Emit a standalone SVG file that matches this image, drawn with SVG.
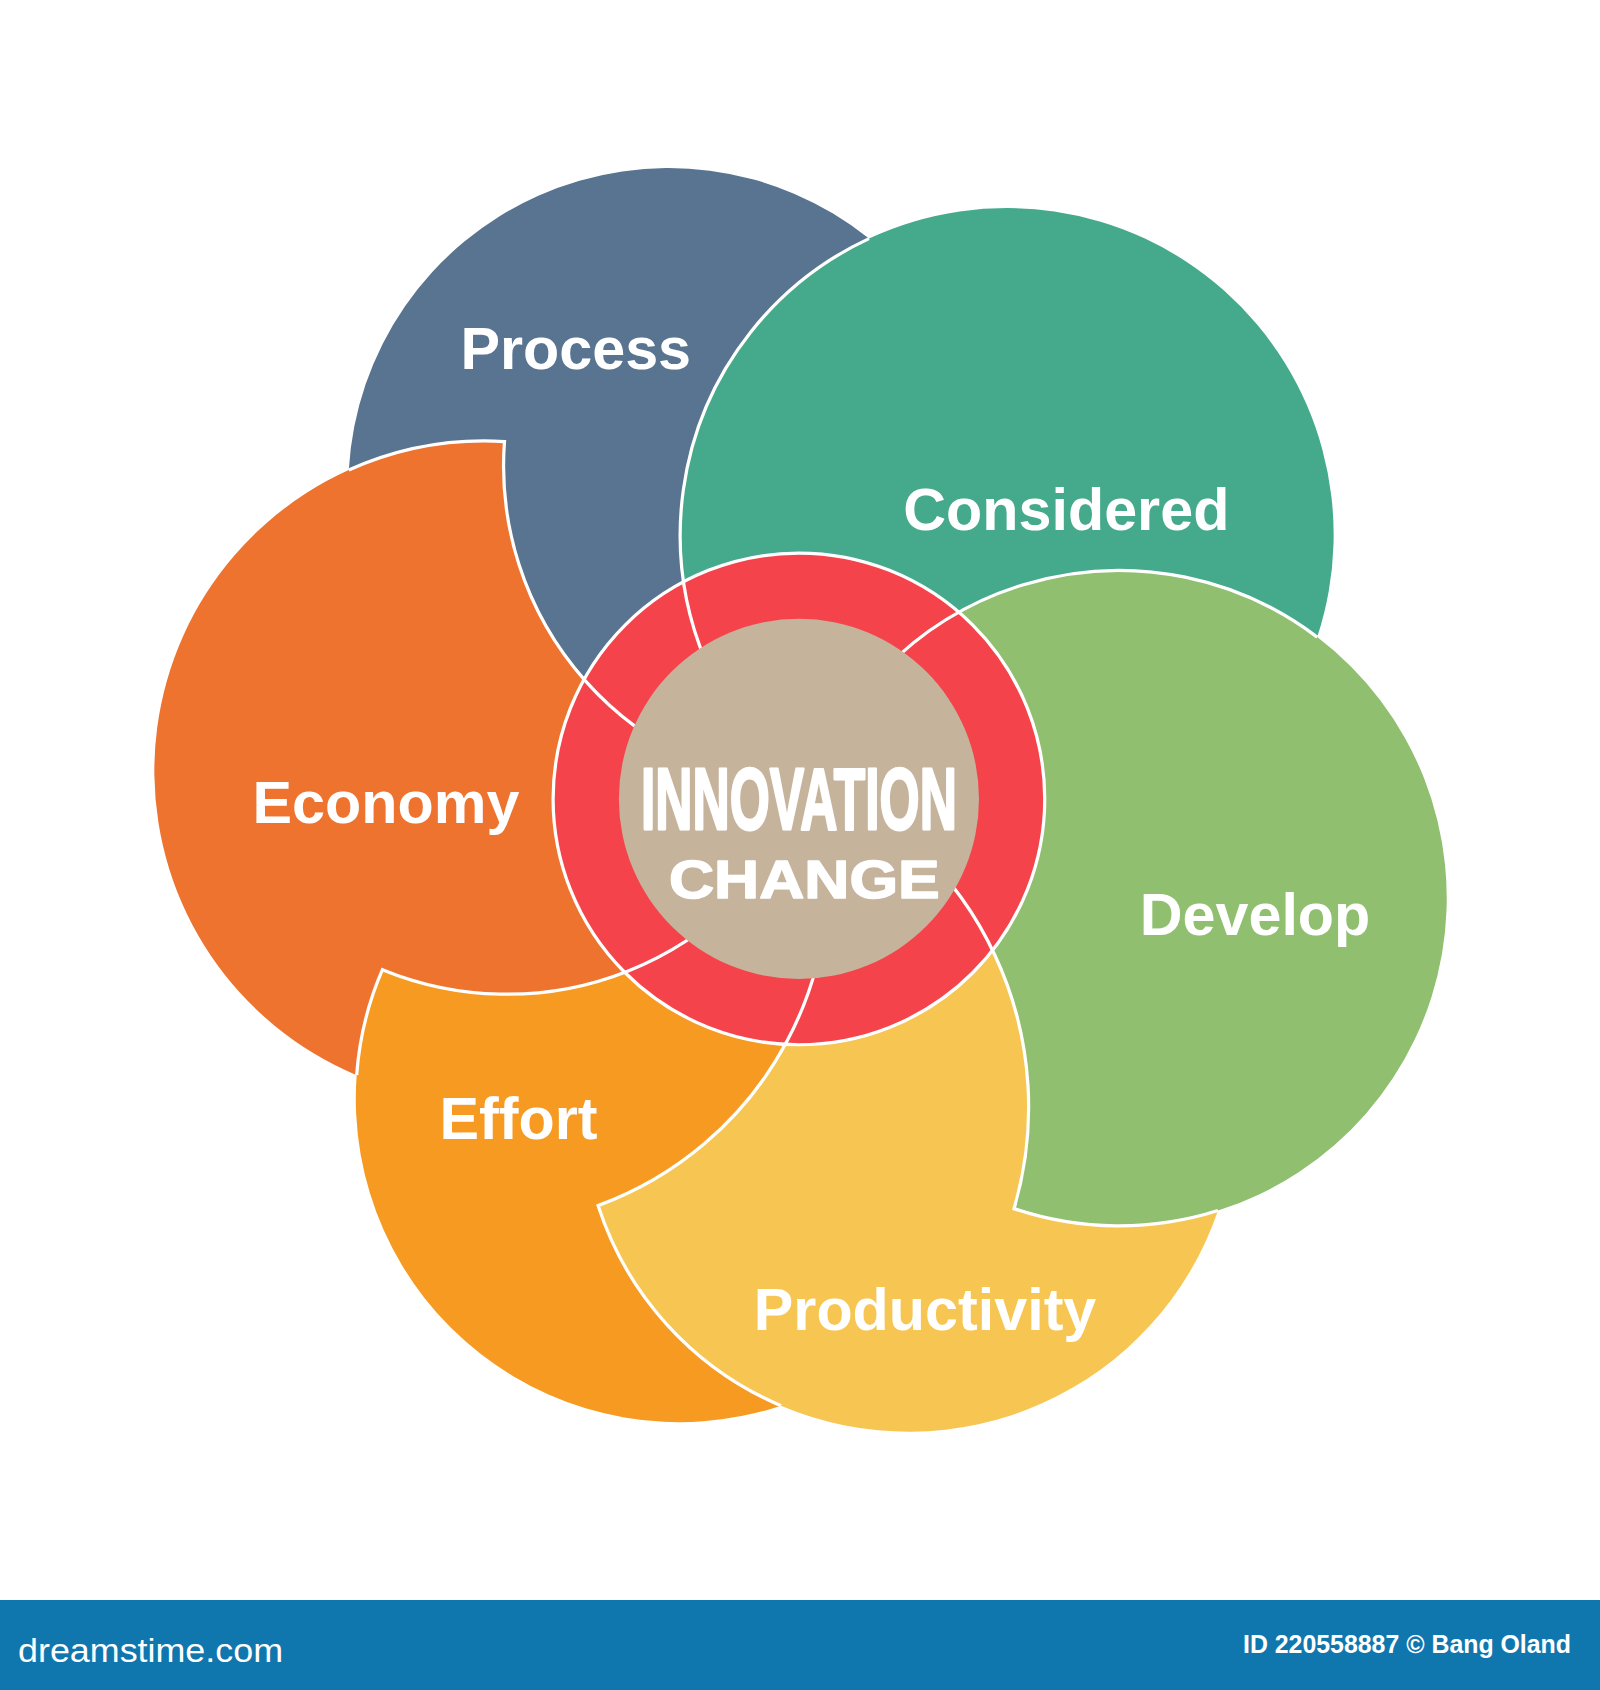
<svg xmlns="http://www.w3.org/2000/svg" width="1600" height="1690" viewBox="0 0 1600 1690">
<defs>
<style>
.lbl{font-family:"Liberation Sans",Arial,Helvetica,sans-serif;font-weight:bold;fill:#ffffff;text-anchor:middle;font-size:55px}
.ctr{font-family:"Liberation Sans",Arial,Helvetica,sans-serif;font-weight:bold;fill:#ffffff;stroke:#ffffff;text-anchor:middle}
.edge{fill:none;stroke:#ffffff;stroke-width:3}
.bar{font-family:"Liberation Sans",Arial,Helvetica,sans-serif;fill:#ffffff}
</style>
<clipPath id="noBeige">
<path clip-rule="evenodd" d="M0,0H1484V1568H0Z M908,741 A167,167 0 1 0 574,741 A167,167 0 1 0 908,741 Z"/>
</clipPath>
</defs>
<rect x="0" y="0" width="1600" height="1690" fill="#ffffff"/>
<g transform="scale(1.07817)">
<g id="petals">
<g id="node-process">
<path fill="#587490" d="M323.5,436 A297,297 0 0 1 806,221.3 A303,303 0 0 0 736.8,726.1 L754.5,731.8 A300,300 0 0 1 467.9,409.6 A306,306 0 0 0 323.5,436 Z"/>
<text class="lbl" x="534" y="342">Process</text>
</g>
<g id="node-considered">
<path fill="#45AA8B" d="M806,221.3 A303,303 0 0 1 1221.7,590.9 A304,304 0 0 0 749.7,736.5 L736.8,726.1 A303,303 0 0 1 806,221.3 Z"/>
<text class="lbl" x="989" y="492">Considered</text>
</g>
<g id="node-develop">
<path fill="#8FBF6F" d="M1221.7,590.9 A304,304 0 0 1 1129.7,1122.8 A304,304 0 0 1 940.5,1121 A333,333 0 0 0 754.9,722 L749.7,736.5 A304,304 0 0 1 1221.7,590.9 Z"/>
<text class="lbl" x="1164" y="867">Develop</text>
</g>
<g id="node-productivity">
<path fill="#F7C552" d="M1129.7,1122.8 A303,303 0 0 1 724.4,1303.8 A303,303 0 0 1 554.7,1118.2 A325,325 0 0 0 758.3,734 L754.9,722 A333,333 0 0 1 940.5,1121 A304,304 0 0 0 1129.7,1122.8 Z"/>
<text class="lbl" x="858" y="1234">Productivity</text>
</g>
<g id="node-effort">
<path fill="#F69A22" d="M724.4,1303.8 A300,300 0 0 1 330.8,997.2 A300,300 0 0 1 354.7,899.4 A304,304 0 0 0 747.3,742.8 L758.3,734 A325,325 0 0 1 554.7,1118.2 A303,303 0 0 0 724.4,1303.8 Z"/>
<text class="lbl" x="481" y="1056">Effort</text>
</g>
<g id="node-economy">
<path fill="#EE732E" d="M330.8,997.2 A306,306 0 0 1 323.5,436 A306,306 0 0 1 467.9,409.6 A300,300 0 0 0 754.5,731.8 L747.3,742.8 A304,304 0 0 1 354.7,899.4 A300,300 0 0 0 330.8,997.2 Z"/>
<text class="lbl" x="358" y="763">Economy</text>
</g>
</g>
<g id="node-center">
<circle cx="741" cy="741" r="228" fill="#F4434A" stroke="#ffffff" stroke-width="3"/>
<circle cx="741" cy="741" r="167" fill="#C6B39C"/>
<text class="ctr" x="741" y="769" font-size="81" stroke-width="2.6" stroke-linejoin="round" textLength="293" lengthAdjust="spacingAndGlyphs">INNOVATION</text>
<text class="ctr" x="746" y="833" font-size="50" stroke-width="1.4" stroke-linejoin="round" textLength="251" lengthAdjust="spacingAndGlyphs">CHANGE</text>
</g>
<g id="connectors" clip-path="url(#noBeige)">
<path class="edge" d="M806,221.3 A303,303 0 0 0 736.8,726.1"/>
<path class="edge" d="M1221.7,590.9 A304,304 0 0 0 749.7,736.5"/>
<path class="edge" d="M1129.7,1122.8 A304,304 0 0 1 940.5,1121 A333,333 0 0 0 754.9,722"/>
<path class="edge" d="M724.4,1303.8 A303,303 0 0 1 554.7,1118.2 A325,325 0 0 0 758.3,734"/>
<path class="edge" d="M330.8,997.2 A300,300 0 0 1 354.7,899.4 A304,304 0 0 0 747.3,742.8"/>
<path class="edge" d="M323.5,436 A306,306 0 0 1 467.9,409.6 A300,300 0 0 0 754.5,731.8"/>
</g>
</g>
<g id="footer">
<rect x="0" y="1600" width="1600" height="90" fill="#1077AE"/>
<text class="bar" x="18" y="1662" font-size="33" textLength="265" lengthAdjust="spacingAndGlyphs">dreamstime.com</text>
<text class="bar" x="1571" y="1653" font-size="26" font-weight="bold" text-anchor="end" textLength="328" lengthAdjust="spacingAndGlyphs">ID 220558887 © Bang Oland</text>
</g>
</svg>
